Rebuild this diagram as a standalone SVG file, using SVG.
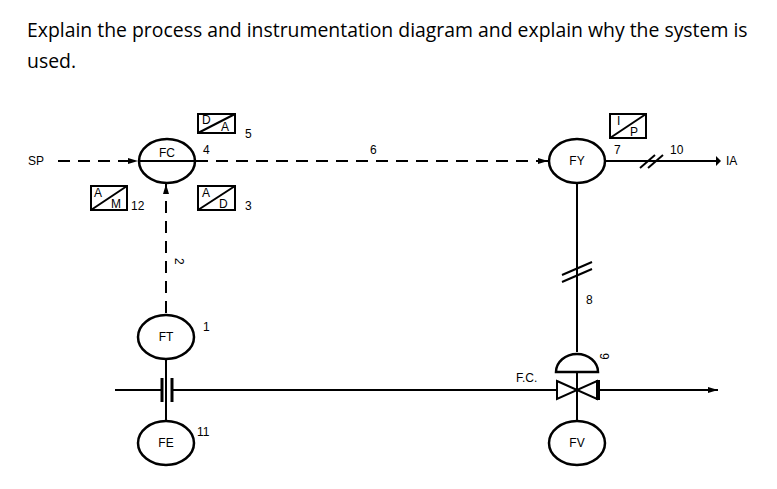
<svg xmlns="http://www.w3.org/2000/svg" width="777" height="489" viewBox="0 0 777 489">
<defs>
<marker id="ar" viewBox="0 0 10 6" refX="10" refY="3" markerWidth="10" markerHeight="6" markerUnits="userSpaceOnUse" orient="auto"><path d="M0,0 L10,3 L0,6 z" fill="#000"/></marker>
</defs>
<style>
.t{font-family:"Liberation Sans",Arial,sans-serif;font-size:12px;fill:#000}
.q{font-family:"Open Sans","Liberation Sans",sans-serif;font-size:19.4px;fill:#000}
.bub{fill:#fff;stroke:#000;stroke-width:2.5}
.box{fill:#fff;stroke:#000;stroke-width:2}
.ln{stroke:#000;stroke-width:2;fill:none}
.dash{stroke:#000;stroke-width:2;fill:none;stroke-dasharray:12,8}
</style>
<rect width="777" height="489" fill="#fff"/>
<text class="q" x="27" y="37">Explain the process and instrumentation diagram and explain why the system is</text>
<text class="q" x="27" y="68">used.</text>
<g id="connectors">
<line class="dash" x1="58" y1="161" x2="138" y2="161" marker-end="url(#ar)"/>
<line class="dash" x1="196" y1="161" x2="548" y2="161" marker-end="url(#ar)"/>
<line class="dash" x1="166" y1="313" x2="166" y2="184" marker-end="url(#ar)"/>
<line class="ln" x1="166" y1="359" x2="166" y2="420"/>
<line class="ln" x1="605" y1="161" x2="716" y2="161"/>
<path d="M716,156 L721,161 L716,166 z" fill="#000"/>
<line class="ln" x1="640" y1="168" x2="655" y2="155"/>
<line class="ln" x1="648" y1="168" x2="663" y2="155"/>
<line class="ln" x1="577" y1="183" x2="577" y2="352"/>
<line class="ln" x1="562" y1="275" x2="592" y2="262"/>
<line class="ln" x1="562" y1="282" x2="592" y2="269"/>
<line class="ln" x1="577" y1="372" x2="577" y2="421"/>
<line class="ln" x1="115" y1="390" x2="162" y2="390"/>
<line class="ln" x1="172" y1="390" x2="556" y2="390"/>
<line class="ln" x1="600" y1="390" x2="718" y2="390" marker-end="url(#ar)"/>
<line x1="162" y1="378" x2="162" y2="402" stroke="#000" stroke-width="3"/>
<line x1="172" y1="378" x2="172" y2="402" stroke="#000" stroke-width="3"/>
</g>
<g id="FC"><ellipse class="bub" cx="167" cy="161" rx="28" ry="22"/><line class="ln" x1="139" y1="161" x2="195" y2="161"/><text class="t" x="167" y="157" text-anchor="middle">FC</text><text class="t" x="203" y="154">4</text></g>
<g id="FY"><ellipse class="bub" cx="577" cy="161" rx="28" ry="22"/><text class="t" x="577" y="165" text-anchor="middle">FY</text><text class="t" x="614" y="154">7</text><text class="t" x="670" y="154">10</text><text class="t" x="726" y="165">IA</text></g>
<g id="FT"><ellipse class="bub" cx="166" cy="337" rx="28" ry="22"/><text class="t" x="166" y="341" text-anchor="middle">FT</text><text class="t" x="203" y="331">1</text></g>
<g id="FE"><ellipse class="bub" cx="166" cy="443" rx="28" ry="22"/><text class="t" x="166" y="447" text-anchor="middle">FE</text><text class="t" x="197" y="436">11</text></g>
<g id="FV"><ellipse class="bub" cx="577" cy="443" rx="28" ry="22"/><text class="t" x="577" y="447" text-anchor="middle">FV</text></g>
<g id="valve">
<path d="M556,372 A21,18 0 0 1 598,372 z" fill="#fff" stroke="#000" stroke-width="2.5"/>
<path d="M557,381 L597,399 L597,381 L557,399 z" fill="#fff" stroke="#000" stroke-width="2"/>
<line x1="598" y1="380" x2="598" y2="400" stroke="#000" stroke-width="4"/>
<text class="t" x="516" y="382">F.C.</text>
<text class="t" x="600" y="361" transform="rotate(90 604 357)">9</text>
<text class="t" x="586" y="304">8</text>
</g>
<g id="DA"><rect class="box" x="198" y="114" width="37" height="19"/><line class="ln" x1="198" y1="133" x2="235" y2="114"/><text class="t" x="202" y="124">D</text><text class="t" x="221" y="131">A</text><text class="t" x="245" y="138">5</text></g>
<g id="AD"><rect class="box" x="198" y="186" width="37" height="24"/><line class="ln" x1="198" y1="210" x2="235" y2="186"/><text class="t" x="202" y="197">A</text><text class="t" x="219" y="208">D</text><text class="t" x="245" y="210">3</text></g>
<g id="AM"><rect class="box" x="91" y="186" width="36" height="24"/><line class="ln" x1="91" y1="210" x2="127" y2="186"/><text class="t" x="94" y="197">A</text><text class="t" x="111" y="208">M</text><text class="t" x="131" y="210">12</text></g>
<g id="IP"><rect class="box" x="610" y="114" width="36" height="24"/><line class="ln" x1="610" y1="138" x2="646" y2="114"/><text class="t" x="617" y="125">I</text><text class="t" x="630" y="136">P</text></g>
<text class="t" x="28" y="165">SP</text>
<text class="t" x="370" y="154">6</text>
<text class="t" x="175" y="266" transform="rotate(90 179 262)">2</text>
</svg>
